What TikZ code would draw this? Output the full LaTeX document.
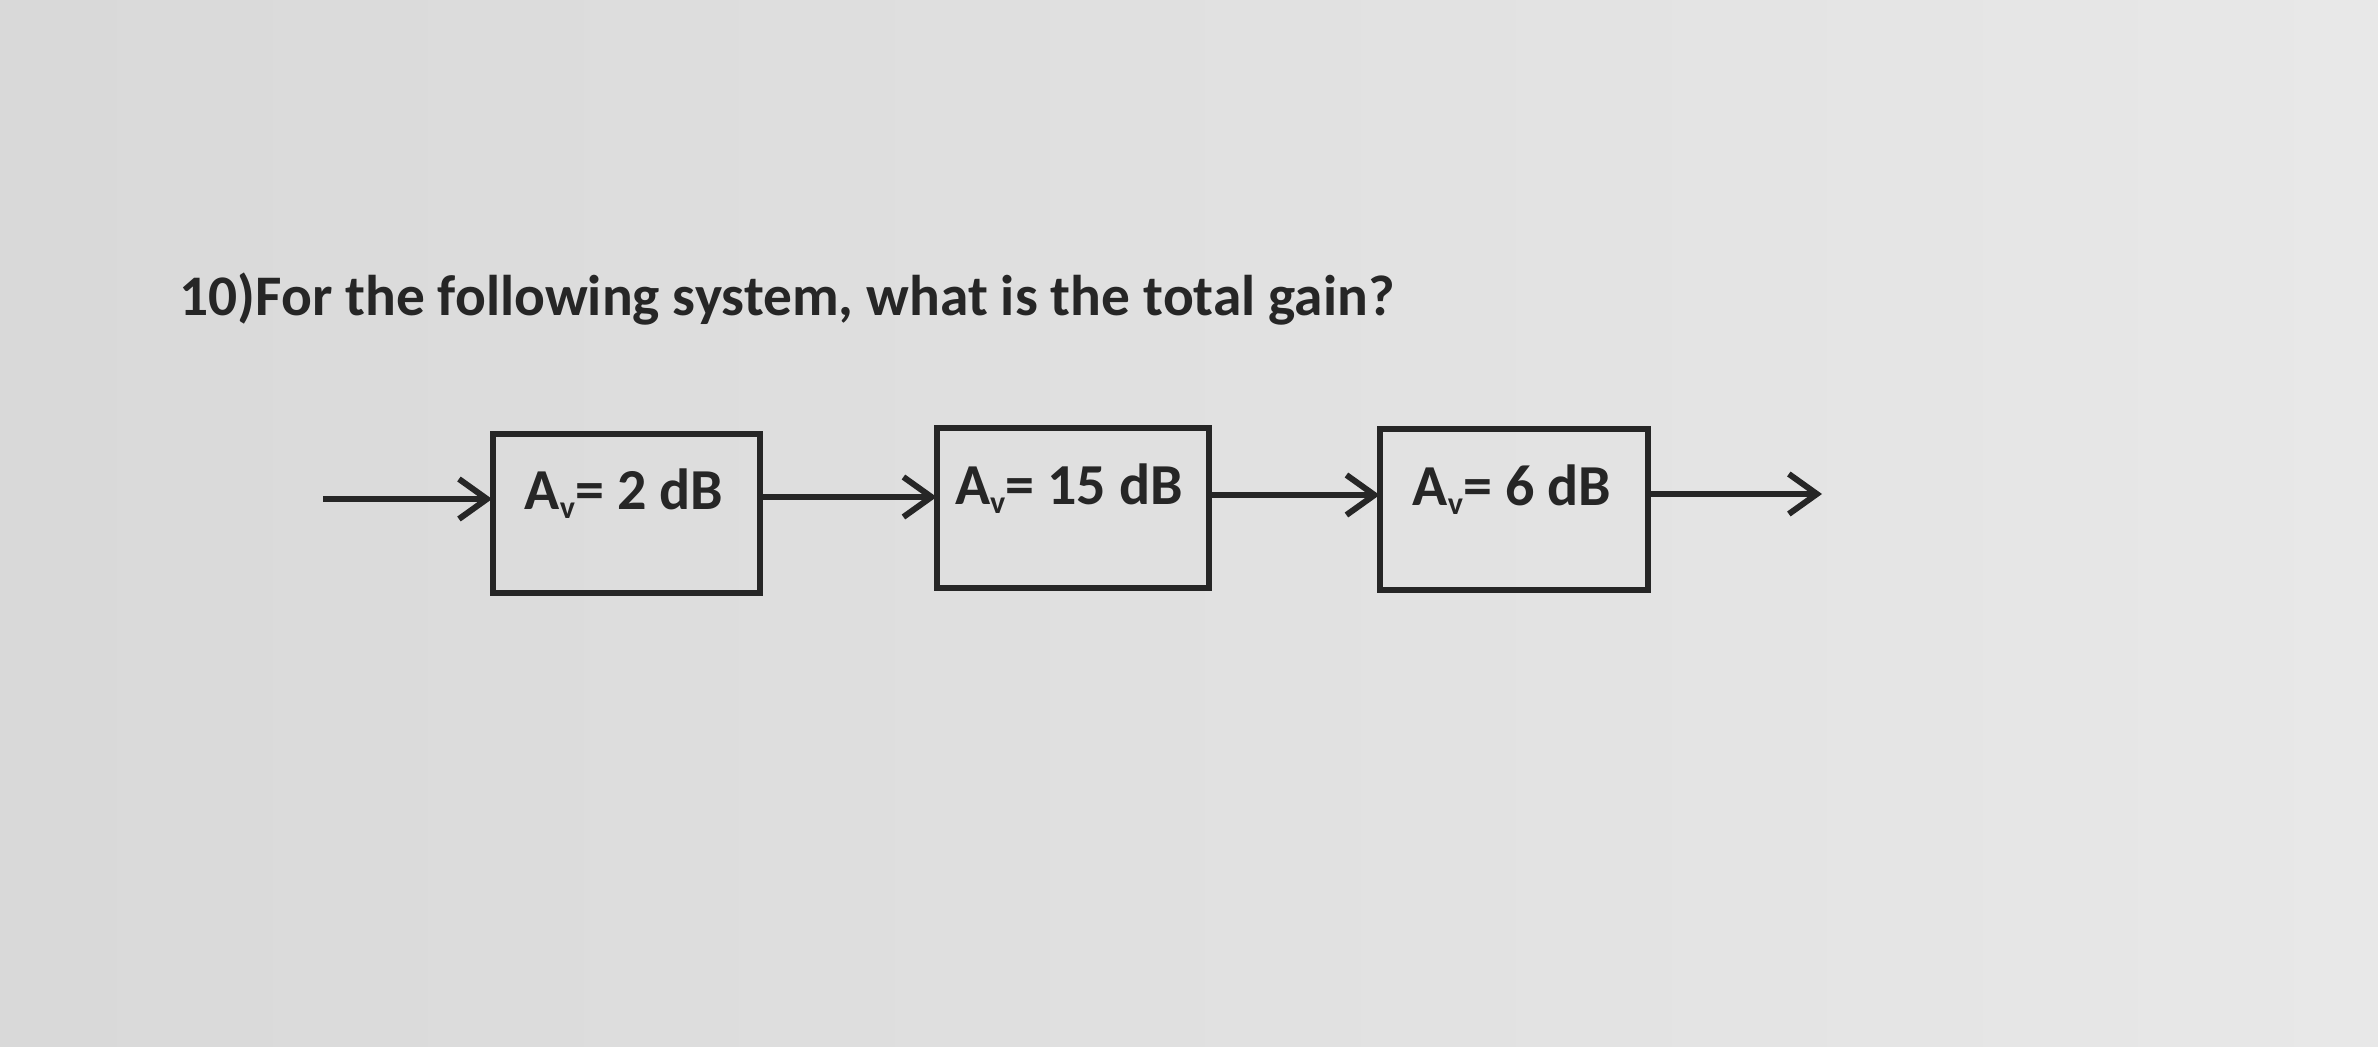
\documentclass[tikz,border=0pt]{standalone}
\usepackage{fontspec}
\setmainfont{Carlito}
\usetikzlibrary{arrows.meta,positioning}
\definecolor{ink}{RGB}{38,38,38}
\begin{document}
\begin{tikzpicture}[x=0.5pt,y=-0.5pt,
  blk/.style={draw=ink,line width=3pt,inner sep=0pt},
  lbl/.style={text=ink,font=\bfseries\fontsize{29pt}{32pt}\selectfont,inner sep=0pt,anchor=base},
  flow/.style={draw=ink,line width=2.8pt,-{Straight Barb[length=14pt,width=20pt,line width=3pt]}}]
\useasboundingbox (0,0) rectangle (2378,1047);
\shade[left color=black!15,right color=black!9] (0,0) rectangle (2378,1047);
\node[text=ink,font=\bfseries\fontsize{28.7pt}{32pt}\selectfont,anchor=base west,inner sep=0pt] (title) at (179,316) {10)For the following system, what is the total gain?};
% boxes
\draw[blk] (493,434) rectangle (760,593);
\node[minimum width=134pt,minimum height=80pt] (b1) at (626.5,513.5) {};
\draw[blk] (937,428) rectangle (1209,588);
\node[minimum width=136pt,minimum height=80pt] (b2) at (1073,508) {};
\draw[blk] (1380,429) rectangle (1648,590);
\node[minimum width=134pt,minimum height=80.5pt] (b3) at (1514,509.5) {};
% labels
\node[lbl] (l1) at (624,510) {A{\fontsize{16pt}{16pt}\selectfont\raisebox{-4.5pt}{v}}= 2 dB};
\node[lbl] (l2) at (1069,505) {A{\fontsize{16pt}{16pt}\selectfont\raisebox{-4.5pt}{v}}= 15 dB};
\node[lbl] (l3) at (1512,506) {A{\fontsize{16pt}{16pt}\selectfont\raisebox{-4.5pt}{v}}= 6 dB};
\coordinate (in) at (323,499);
\coordinate (out) at (1822,494);
\draw[flow] (in) -- (b1.west |- in);
\draw[flow] (b1.east |- 0,497) -- (b2.west |- 0,497);
\draw[flow] (b2.east |- 0,495) -- (b3.west |- 0,495);
\draw[flow] (b3.east |- out) -- (out);
\end{tikzpicture}
\end{document}
